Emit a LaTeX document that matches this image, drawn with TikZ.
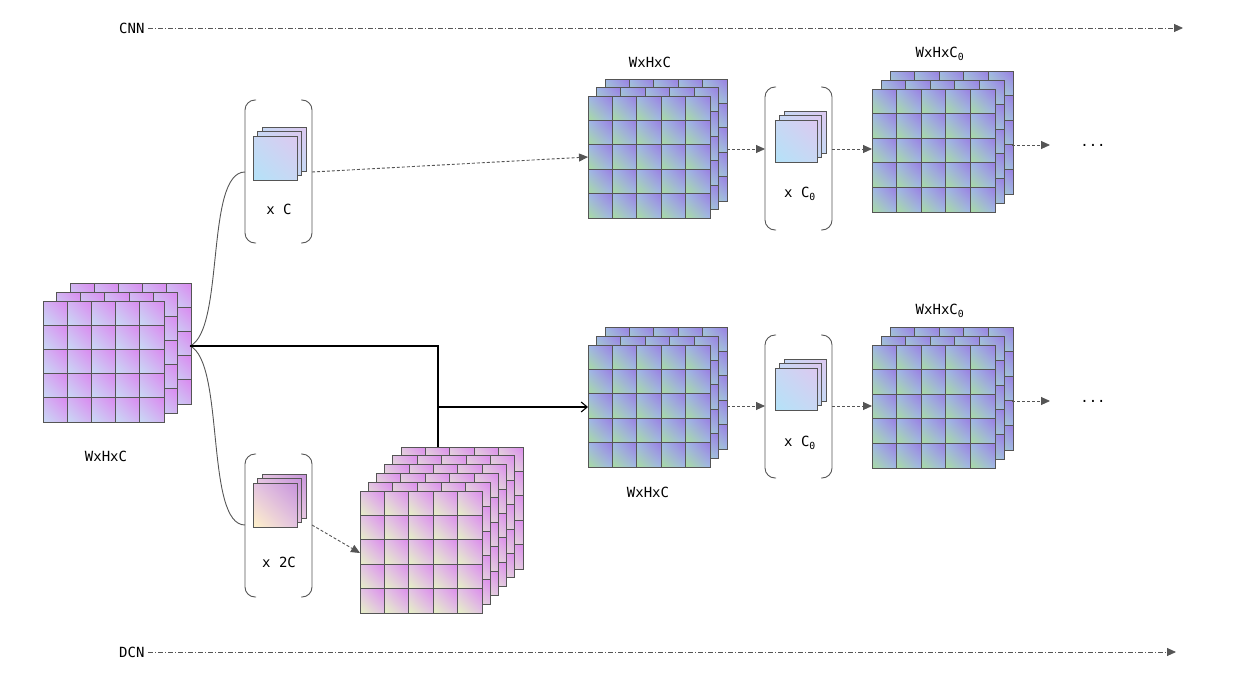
\documentclass[tikz,border=0pt]{standalone}
\usepackage{fontspec}
\setmainfont{DejaVu Sans Mono}
\usetikzlibrary{arrows.meta,shadings}
\definecolor{ln}{HTML}{555555}
\definecolor{a1}{HTML}{C8DAF5}\definecolor{a2}{HTML}{DA88F0}\definecolor{a3}{HTML}{D2B4F2}
\definecolor{c1}{HTML}{A8DCA0}\definecolor{c2}{HTML}{9A7EE2}\definecolor{c3}{HTML}{A0B8E8}
\definecolor{d1}{HTML}{E6F2C4}\definecolor{d2}{HTML}{DC8CEC}\definecolor{d3}{HTML}{E2C4E4}
\definecolor{s1}{HTML}{B4E2F8}\definecolor{s2}{HTML}{DCC8F0}\definecolor{s3}{HTML}{C8D8F4}
\definecolor{p1}{HTML}{FFF2C8}\definecolor{p2}{HTML}{C894DC}\definecolor{p3}{HTML}{E4C4E2}
\tikzset{
 inA/.style={lower left=a1,upper right=a2,upper left=a3,lower right=a3},
 cnA/.style={lower left=c1,upper right=c2,upper left=c3,lower right=c3},
 dcA/.style={lower left=d1,upper right=d2,upper left=d3,lower right=d3},
 sqB/.style={lower left=s1,upper right=s2,upper left=s3,lower right=s3},
 sqP/.style={lower left=p1,upper right=p2,upper left=p3,lower right=p3},
 cell/.style={draw=ln,line width=0.9pt},
 lbl/.style={font=\fontsize{14}{16}\selectfont},
 dsh/.style={draw=ln,densely dashed,line width=0.9pt,-{Triangle[length=9pt,width=8pt]}},
 brk/.style={draw=ln,line width=0.9pt,rounded corners=10pt},
 ax/.style={draw=ln,dash pattern=on 5pt off 2pt on 1pt off 2pt,line width=0.9pt,-{Triangle[length=9pt,width=8pt]}}
}
% #1 x, #2 y (front top-left), #3 layers, #4 dx, #5 dy, #6 cell, #7 shading style
\newcommand\gridstack[7]{%
 \foreach \kk in {1,...,#3}{%
  \pgfmathsetmacro\ox{#1+(#3-\kk)*#4}\pgfmathsetmacro\oy{#2-(#3-\kk)*#5}%
  \foreach \i in {0,...,4}{\foreach \j in {0,...,4}{%
   \shadedraw[cell,#7] (\ox+\i*#6,\oy+\j*#6) rectangle ++(#6,#6);}}}}
\newcommand\squares[5]{% x y size dx shading
 \foreach \kk in {2,1,0}{\shadedraw[cell,#5] (#1+\kk*#4,#2-\kk*#4) rectangle ++(#3,#3);}}
\newcommand\bracket[4]{% x1 y1 x2 y2
 \draw[brk] (#1+11,#2) -- (#1,#2) -- (#1,#4) -- (#1+11,#4);
 \draw[brk] (#3-11,#2) -- (#3,#2) -- (#3,#4) -- (#3-11,#4);}
\begin{document}
\begin{tikzpicture}[x=1pt,y=-1pt]
\useasboundingbox (0,0) rectangle (1238,680);
% axes
\node[lbl,anchor=east] (cnn) at (148,28) {CNN};
\coordinate (cnnE) at (1183,28);
\draw[ax] (cnn.east) -- (cnnE);
\node[lbl,anchor=east] (dcn) at (148,652) {DCN};
\coordinate (dcnE) at (1176,652);
\draw[ax] (dcn.east) -- (dcnE);
% stacks
\gridstack{43}{301}{3}{13.5}{9}{24.2}{inA}
\gridstack{588}{96}{3}{8.5}{8.5}{24.4}{cnA}
\gridstack{872}{89}{3}{9}{9}{24.6}{cnA}
\gridstack{588}{345}{3}{8.5}{9}{24.4}{cnA}
\gridstack{872}{345}{3}{9}{9}{24.6}{cnA}
\gridstack{360}{491}{6}{8.2}{8.8}{24.4}{dcA}
% brackets
\bracket{245}{100}{312}{243}
\squares{253}{136}{44}{4.5}{sqB}
\bracket{245}{454}{312}{597}
\squares{253}{483}{44}{4.5}{sqP}
\bracket{765}{87}{832}{230}
\squares{775}{120}{42}{4.5}{sqB}
\bracket{765}{335}{832}{478}
\squares{775}{368}{42}{4.5}{sqB}
% labels
\node[lbl] (l1) at (106,456) {WxHxC};
\node[lbl] (l2) at (650,62) {WxHxC};
\node[lbl] (l3) at (648,492) {WxHxC};
\node[lbl] (l4) at (940,54) {WxHxC\textsubscript{0}};
\node[lbl] (l5) at (940,311) {WxHxC\textsubscript{0}};
\node[lbl] (b1) at (279,209) {x C};
\node[lbl] (b2) at (279,562) {x 2C};
\node[lbl] (b3) at (800,194) {x C\textsubscript{0}};
\node[lbl] (b4) at (800,443) {x C\textsubscript{0}};
\node[lbl] (e1) at (1093,145) {...};
\node[lbl] (e2) at (1093,401) {...};
% connectors
\coordinate (src) at (190,346);
\coordinate (bt) at (245,172);
\coordinate (bb) at (245,525);
\draw[ln,line width=0.9pt] (src) .. controls (225,330) and (205,172) .. (bt);
\draw[ln,line width=0.9pt] (src) .. controls (225,362) and (205,525) .. (bb);
\coordinate (dt) at (438,447);
\coordinate (tee) at (438,407);
\coordinate (mid) at (588,407);
\draw[black,line width=1.1pt] (src) -- (438,346) -- (dt);
\draw[black,line width=1.1pt,-{Straight Barb[length=6pt,width=10pt]}] (tee) -- (mid);
\draw[dsh] (312,172) -- (588,157);
\draw[dsh] (312,525) -- (360,553);
\draw[dsh] (727,149) -- (765,149);
\draw[dsh] (832,149) -- (872,149);
\draw[dsh] (1012,145) -- (1050,145);
\draw[dsh] (727,406) -- (765,406);
\draw[dsh] (832,406) -- (872,406);
\draw[dsh] (1012,401) -- (1050,401);
\end{tikzpicture}
\end{document}
